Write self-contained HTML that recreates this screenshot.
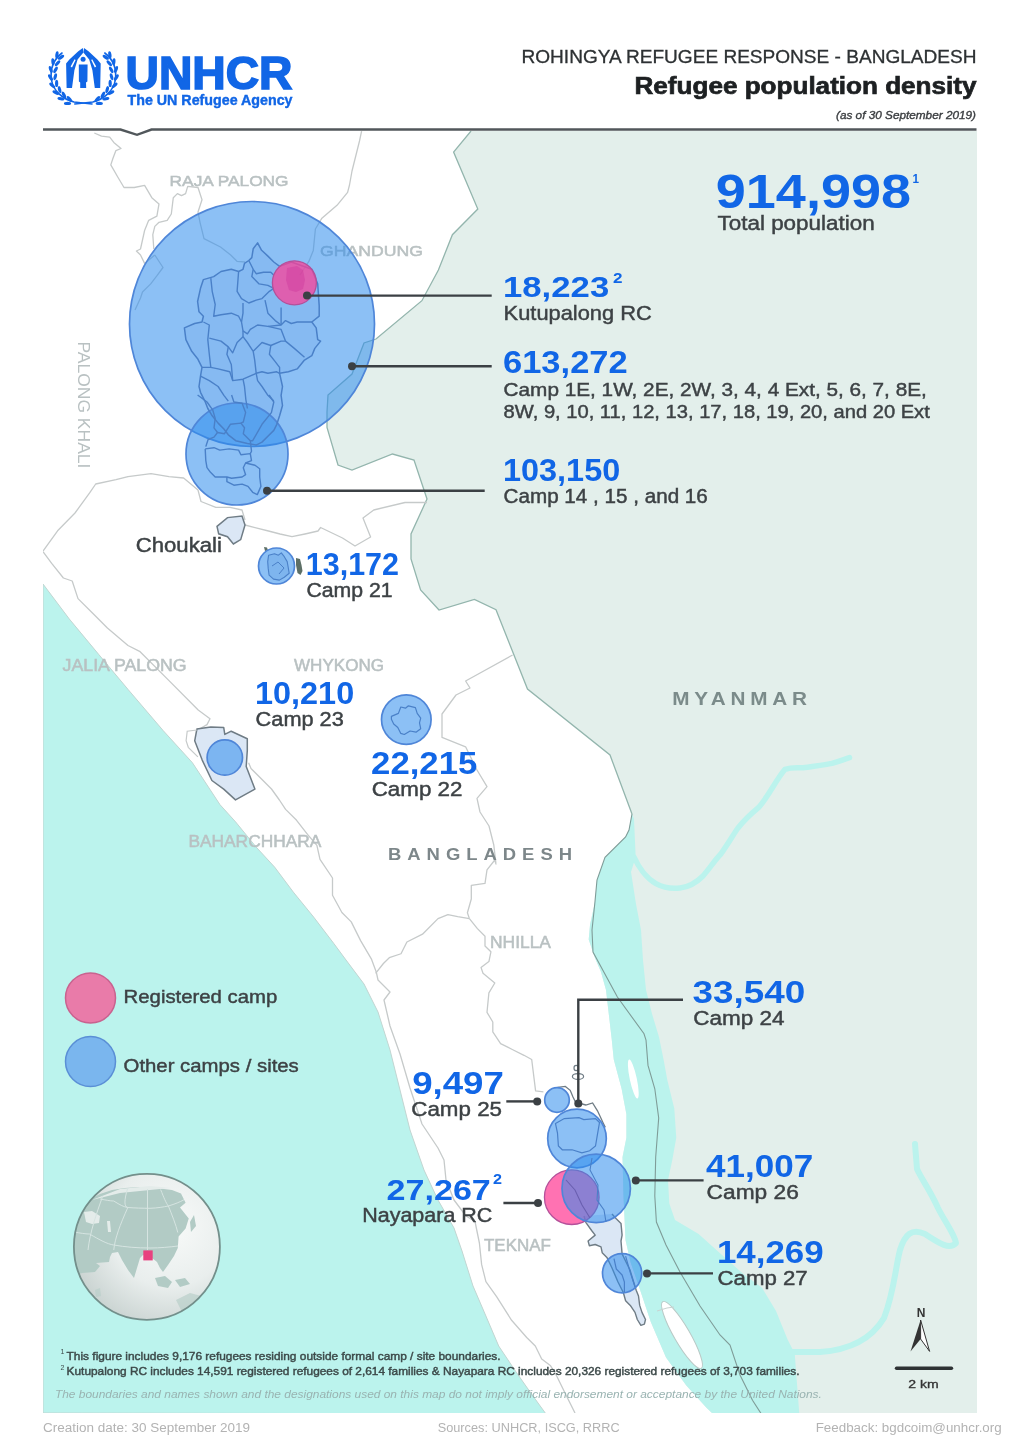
<!DOCTYPE html>
<html><head><meta charset="utf-8"><title>Refugee population density</title>
<style>
html,body{margin:0;padding:0;background:#fff;}
body{width:1024px;height:1449px;overflow:hidden;}
svg{display:block;font-family:"Liberation Sans",Arial,sans-serif;}
</style></head><body>
<svg width="1024" height="1449" viewBox="0 0 1024 1449">
<defs><clipPath id="mc"><rect x="43" y="131" width="934" height="1282"/></clipPath></defs>
<g clip-path="url(#mc)">
<rect x="43" y="131" width="934" height="1282" fill="#e3efeb"/>
<polygon points="471,131 453.6,152 477.8,209 452.4,234.7 438.4,270 421.9,300.7 376,339 364,343 352,374 328,395 327,412 327,427.5 338,465 352,470 392.5,454 414,460 427,499 411,534 411,559 420.6,590 439,610 474.4,599.4 496,609.7 527.5,689 610,755 632,814 632,814 629,830 625.6,837 605,857.4 597,880 594.9,902.5 590,925 588.7,939.5 595,958 601,972 606,990 611.8,1040 613.75,1059.5 621.6,1088.8 626.4,1114.2 626.4,1137.7 622.5,1157.2 623.5,1196 625.5,1240 630.5,1262 638,1283.8 650.8,1322 666,1357.4 686.3,1385.4 706.7,1408 712,1413 546,1414 531,1393.3 516,1371.9 498.7,1346 485.9,1316 473,1286 462,1251 454,1228 438,1200 424,1170 410,1130 400,1090 390,1050 378,1012 364,984 346,960 334,943.75 313.75,917.2 293.4,892.2 274.7,867.2 256,846.9 235.6,821.9 220,804.7 192.4,762.7 163,730.4 128,689.4 98.6,654.3 69.3,619 43,584 43,131" fill="#fff"/>
<polygon points="632,814 629,830 625.6,837 605,857.4 597,880 594.9,902.5 590,925 588.7,939.5 595,958 601,972 606,990 611.8,1040 613.75,1059.5 621.6,1088.8 626.4,1114.2 626.4,1137.7 622.5,1157.2 623.5,1196 625.5,1240 630.5,1262 638,1283.8 650.8,1322 666,1357.4 686.3,1385.4 706.7,1408 712,1413 712,1415 799.4,1415 794.7,1353.4 787.6,1339.4 776,1311 762,1287.8 743,1273.7 722,1255 698.6,1234 675,1220 669.3,1203.4 668,1180 672.3,1160 676.25,1137.7 674.3,1108.4 667.3,1080 663.75,1060.6 659,1037 652,1013.8 646,990 643,960 641,930 636,904 631,872 635.7,857 634,819 632,814" fill="#bbf3ed"/>
<polygon points="546,1414 531,1393.3 516,1371.9 498.7,1346 485.9,1316 473,1286 462,1251 454,1228 438,1200 424,1170 410,1130 400,1090 390,1050 378,1012 364,984 346,960 334,943.75 313.75,917.2 293.4,892.2 274.7,867.2 256,846.9 235.6,821.9 220,804.7 192.4,762.7 163,730.4 128,689.4 98.6,654.3 69.3,619 43,584 43,1413" fill="#bbf3ed" stroke="#c3d6d2" stroke-width="1"/>
<path d="M634,857 C638,866 646,878 656,883.6 C664,888 672,889 680,888 C690,887 697,882 703,876 C710,868 715,860 720.6,854.3 C728,844 733,835 738,828 C745,819 752,813 758.7,807.4 C768,797 776,780 785,769.3 C792,767 798,768 802.7,767.8 C815,766 825,765 832,763.4 C840,761 845,759 849.5,757.6" fill="none" stroke="#bbf3ed" stroke-width="5.5" stroke-linecap="round" stroke-linejoin="round"/>
<path d="M915,1144 L917,1169 C922,1180 930,1190 938,1208 C945,1222 955,1235 956,1243 C950,1250 940,1244 925,1234 C912,1228 905,1234 900,1250 C895,1270 894,1292 884,1318 C872,1338 850,1350 820,1352 L790,1352" fill="none" stroke="#bbf3ed" stroke-width="6" stroke-linecap="round" stroke-linejoin="round"/>
<ellipse cx="633.3" cy="1079" rx="3.5" ry="20" transform="rotate(-12 633.3 1079)" fill="#fff"/>
<ellipse cx="682" cy="1335" rx="8" ry="38.5" transform="rotate(-30 682 1335)" fill="#fff" stroke="#b9c9c6" stroke-width="1"/>
<polyline points="657,1311 667,1308 674,1307" fill="none" stroke="#c9d3d1" stroke-width="1"/>
<polyline points="471,131 453.6,152 477.8,209 452.4,234.7 438.4,270 421.9,300.7 376,339 364,343 352,374 328,395 327,412 327,427.5 338,465 352,470 392.5,454 414,460 427,499 411,534 411,559 420.6,590 439,610 474.4,599.4 496,609.7 527.5,689 610,755 632,814" fill="none" stroke="#93b5ad" stroke-width="1.3"/>
<polyline points="632,814 629,830 625.6,837 605,857.4 597,880 594.9,902.5 592,930 593,952 617.4,997 644,1033.8 646,1040 648,1065.4 654.8,1088.8 658.7,1118 655.7,1157 654.8,1196 656.4,1222 666,1245 680,1272 700,1306 720,1335 730,1345 740,1375 752.5,1400.3 762,1415" fill="none" stroke="#7f9c98" stroke-width="1.1"/>
<polyline points="361.6,131.2 359.5,141 356,155 352,171 349.5,185 347.6,192.4 337,205.3 321.9,218.2 315.4,229 313.3,250.4 309,261.2 300,275" fill="none" stroke="#c6caca" stroke-width="1.3" stroke-linejoin="round"/>
<polyline points="94.3,133 101.5,136.2 109.7,137.2 113.8,142.4 121,148.5 115.9,150.6 112.8,158.8 110.8,164.9 117.9,177.2 124,187.5 134.3,187.5 144.6,185.4 151.8,197.7 159,203.9 156.9,216.2 148.7,220.3 144.6,230.5 140.5,249 136.4,251 140.5,255 144.6,263.4 154.8,255" fill="none" stroke="#c6caca" stroke-width="1.3" stroke-linejoin="round"/>
<polyline points="154.8,255 163,267.5 157,275.7 150.7,283.9 142.5,292 140.5,298 135,310" fill="none" stroke="#c6caca" stroke-width="1.3" stroke-linejoin="round"/>
<polyline points="153.8,249 152.8,234.6 154.8,226.4 159,222.3 167.2,220.3 171.3,214 173.3,197.7 177.4,193.6 181.5,195.7 185.6,193.6 187.7,186.4 198,187.5 202,199.8 198,212 200,222.3 204,238.7 220.5,247 230.7,255 237,261.3 245,262" fill="none" stroke="#c6caca" stroke-width="1.3" stroke-linejoin="round"/>
<polyline points="43,551 57.6,530.8 75,513 89.8,492.7 95.7,484 116,479.6 128,476.6 151,473.7 169,476.6 183.6,478 198,490 201,501.5 215.8,507.4 230,507.4 242,510 245,520" fill="none" stroke="#c6caca" stroke-width="1.3" stroke-linejoin="round"/>
<polyline points="245,525 268.5,531 280,534 292,536.7 305,534 318,531 320.6,527.5 342.5,538 355,546 370.6,537 363,518 373.75,510 405,502.5 427,502.5" fill="none" stroke="#c6caca" stroke-width="1.3" stroke-linejoin="round"/>
<polyline points="43,551.7 51.7,563.4 63.4,578 72.2,581 78,598.6 92.7,613.2 107.4,628 128,645.5 139.6,651.3 169,680.6 198.2,710 210,718.7 207,724.6 196,731" fill="none" stroke="#c6caca" stroke-width="1.3" stroke-linejoin="round"/>
<polyline points="248.6,762.7 251,768.5 271.5,789 279.4,800 285.6,809.4 296.6,820.3 307.5,834.4 316.9,845.3 320,859.4 332.5,878 332.5,895.3 341.9,912.5 351.25,921.9 360.6,940.6 371.6,959.4 376.25,971.9 378,980 390,992 384,1000 390,1026 400,1054 410,1088 422,1124 438,1148 444,1160 446,1180 454,1200 466,1216 475,1221.5 479.4,1243 481.6,1264.4 485.9,1281.6 496.6,1296.7 511.6,1320.3 526.7,1337.5 535.3,1346 541.7,1359 550.3,1365.4 556.7,1376 566,1395 575,1413" fill="none" stroke="#c6caca" stroke-width="1.3" stroke-linejoin="round"/>
<polyline points="512.6,655 465.6,681 470,688 456,695 442,714 442,737.4 465.6,746.8 477,770 487,786.6 477,798.4 480,812 489,826 493.8,845 496,864 494.8,860 487,869.8 485,883.4 471.3,885.4 471.3,899 467.4,912.7 469.4,918.6" fill="none" stroke="#c6caca" stroke-width="1.3" stroke-linejoin="round"/>
<polyline points="469.4,918.6 457.7,916.6 447.9,914.7 438,918.6 422.5,934.2 406.9,942 401,953.75 389.3,957.7 383.4,963.5 375.6,973.3" fill="none" stroke="#c6caca" stroke-width="1.3" stroke-linejoin="round"/>
<polyline points="469.4,918.6 477.2,928.4 485,936.2 485,946 490.9,951.8 488.9,961.6 481,967.4 483,973.3 494.8,983 488.9,992.8 487,1012.3 492.8,1022 492.8,1031.9 500.6,1043.6 512.3,1049.5 524,1055.3 531.7,1059.5 535.6,1090.8 543.4,1091.8" fill="none" stroke="#c6caca" stroke-width="1.3" stroke-linejoin="round"/>
<text x="484" y="1251" font-size="16" fill="#b9c1c2" textLength="67" lengthAdjust="spacingAndGlyphs" stroke="#b9c1c2" stroke-width="0.5">TEKNAF</text>
<text x="490" y="947.8" font-size="16" fill="#b9c1c2" textLength="61" lengthAdjust="spacingAndGlyphs" stroke="#b9c1c2" stroke-width="0.5">NHILLA</text>
<text x="188.4" y="847" font-size="16" fill="#b9c1c2" textLength="133" lengthAdjust="spacingAndGlyphs" stroke="#b9c1c2" stroke-width="0.5">BAHARCHHARA</text>
<text x="294" y="671.4" font-size="16" fill="#b9c1c2" textLength="90" lengthAdjust="spacingAndGlyphs" stroke="#b9c1c2" stroke-width="0.5">WHYKONG</text>
<text x="62.6" y="671.4" font-size="16" fill="#b9c1c2" textLength="124" lengthAdjust="spacingAndGlyphs" stroke="#b9c1c2" stroke-width="0.5">JALIA PALONG</text>
<text x="320" y="255.8" font-size="15.5" fill="#b9c1c2" textLength="103" lengthAdjust="spacingAndGlyphs" stroke="#b9c1c2" stroke-width="0.5">GHANDUNG</text>
<text x="169.6" y="185.5" font-size="15.5" fill="#b9c1c2" textLength="119" lengthAdjust="spacingAndGlyphs" stroke="#b9c1c2" stroke-width="0.5">RAJA PALONG</text>
<polygon points="217,526.4 227.5,517.6 242,516 245,525 240.7,539.6 233.4,544 227.5,536.7 218.7,533.8" fill="#dbe7f5" stroke="#6f7c85" stroke-width="1.5"/>
<polygon points="196.9,729 210.8,726.9 223.7,727.4 224.8,734.4 231.2,731.2 247.3,738.7 247.3,750.5 246.2,766.6 254.9,789.1 235.5,799.9 223.7,789.1 211.9,780.5 202.2,760.1 194.7,740.8" fill="#dbe7f5" stroke="#6f7c85" stroke-width="1.5" stroke-linejoin="round"/>
<polyline points="196.9,730 187.2,731.2 186.1,740.8 188.3,747.3 197.9,756.9" fill="none" stroke="#c6caca" stroke-width="1.2" />
<polygon points="584,1216 585.8,1222.3 591.6,1230.5 595.2,1235.1 588.1,1241 589.3,1245.7 595.2,1244.5 601,1246.9 602.2,1252.7 606.9,1257.4 612,1268 618,1282 623.3,1292.5 625.6,1300.8 630.3,1305.4 635,1312.4 637.3,1319.5 640.9,1325.4 644.4,1324.2 645.5,1319.5 642,1312.4 639.7,1305.4 638.5,1296 636.2,1290.2 630,1270 622.1,1253.9 621,1241 622.1,1235.1 621,1223.4 616.25,1218.7 612,1214" fill="#dbe7f5"/>
<polyline points="584,1216 585.8,1222.3 591.6,1230.5 595.2,1235.1 588.1,1241 589.3,1245.7 595.2,1244.5 601,1246.9 602.2,1252.7 606.9,1257.4 612,1268 618,1282 623.3,1292.5 625.6,1300.8 630.3,1305.4 635,1312.4 637.3,1319.5 640.9,1325.4 644.4,1324.2 645.5,1319.5 642,1312.4 639.7,1305.4 638.5,1296 636.2,1290.2 630,1270 622.1,1253.9 621,1241 622.1,1235.1 621,1223.4 616.25,1218.7 612,1214" fill="none" stroke="#6f7c85" stroke-width="1.4" stroke-linejoin="round"/>
<polyline points="557.5,1087.3 565.3,1086.4 570.2,1090.3 573,1097 576,1103 578.5,1103 585.8,1105 592.6,1103 597.5,1110.8 603.4,1123.5 605.3,1127.4" fill="none" stroke="#6f7c85" stroke-width="1.3"/>
<ellipse cx="576.2" cy="1068" rx="2.2" ry="2.6" fill="#fff" stroke="#6f7c85" stroke-width="1.2"/><ellipse cx="578" cy="1076.5" rx="5.6" ry="2.9" fill="#fff" stroke="#6f7c85" stroke-width="1.2"/>
<path d="M296,558 l4,1 l1.5,6 l1,6 l-2,4 l-3,-2 l-1.5,-8 z M264,547 l3,0.5 l1,3 l-3,0.5 z" fill="#5d6f66"/>
<circle cx="252" cy="324" r="122.5" fill="rgba(45,140,237,0.55)" stroke="#4f86d8" stroke-width="1.7"/>
<circle cx="237" cy="454" r="51" fill="rgba(45,140,237,0.55)" stroke="#4f86d8" stroke-width="1.7"/>
<polygon points="257.6,242.9 261.6,250.3 267.9,256.1 273.8,262 279.6,266.4 291.3,262 311.8,269.3 317.7,283.9 319.2,305.9 319.2,316.2 311.8,322 316.2,327.9 317.7,339.6 320.6,341.1 314.8,348.4 311.8,355.7 304.5,360.1 297.2,368.9 288.4,371.8 279.6,373.3 282.5,386.5 281.1,395.3 282.5,405.5 279.6,415.8 276.7,424.6 273.8,430.4 267.9,436.3 262,442.1 256.2,445.1 247.4,443.6 235.7,440.7 228.3,434.8 223.9,429 218.1,423.1 212.2,415.8 207.8,408.5 204.9,401.1 200.5,392.3 199,386.5 200.5,376.2 202,367.4 197.6,358.7 191.7,351.3 185.9,339.6 184.4,327.9 194.6,323.5 202,322 203.4,316.2 199,311.8 197.6,301.5 200.5,288.3 203.4,279.6 213.7,276.6 221,271.5 231.3,269.3 238.6,271.5 243,269.3 244.5,263.4 248.8,260.5 251.8,257.6 253.2,248.8" fill="rgba(90,150,225,0.12)" stroke="#4a80c8" stroke-width="1.5" stroke-linejoin="round"/>
<polyline points="238.6,271.5 237.1,291.3 241.5,298.6 248.8,303 256.2,300.1 262,298.6 269.4,291.3 273.8,288.3" fill="none" stroke="#4a80c8" stroke-width="1.4" stroke-linejoin="round"/>
<polyline points="210.8,278.1 212.2,291.3 215.2,304.5 213.7,316.2 221,314.7 231.3,313.2 238.6,316.2 241.5,322 243,330.8 247.4,333.8 250.3,329.4 257.6,325 267.9,326.4 281.1,325 285.5,320.6 291.3,323.5 297.2,322 306,322 311.8,322" fill="none" stroke="#4a80c8" stroke-width="1.4" stroke-linejoin="round"/>
<polyline points="243,303 243,313.2 241.5,322" fill="none" stroke="#4a80c8" stroke-width="1.4" stroke-linejoin="round"/>
<polyline points="265,300.1 267.9,313.2 275.2,320.6 281.1,325" fill="none" stroke="#4a80c8" stroke-width="1.4" stroke-linejoin="round"/>
<polyline points="281.1,307.4 281.1,325" fill="none" stroke="#4a80c8" stroke-width="1.4" stroke-linejoin="round"/>
<polyline points="203.4,322 209.3,325 207.8,339.6 209.3,354.3 210.8,367.4 202,367.4" fill="none" stroke="#4a80c8" stroke-width="1.4" stroke-linejoin="round"/>
<polyline points="209.3,338.1 221,341.1 228.3,346.9 232.7,352.8 237.1,342.5 243,336.7 243,330.8" fill="none" stroke="#4a80c8" stroke-width="1.4" stroke-linejoin="round"/>
<polyline points="228.3,346.9 226.9,354.3 231.3,364.5 232.7,380.6 243,379.2 256.2,373.3 262,371.8 267.9,373.3 276.7,371.8 279.6,373.3" fill="none" stroke="#4a80c8" stroke-width="1.4" stroke-linejoin="round"/>
<polyline points="243,336.7 247.4,342.5 253.2,351.3 254.7,360.1 256.2,373.3" fill="none" stroke="#4a80c8" stroke-width="1.4" stroke-linejoin="round"/>
<polyline points="253.2,351.3 262,342.5 270.8,345.5 281.1,341.1 285.5,341.1 294.3,348.4 304.5,357.2" fill="none" stroke="#4a80c8" stroke-width="1.4" stroke-linejoin="round"/>
<polyline points="267.9,326.4 281.1,329.4 285.5,341.1" fill="none" stroke="#4a80c8" stroke-width="1.4" stroke-linejoin="round"/>
<polyline points="270.8,345.5 269.4,354.3 275.2,361.6 279.6,367.4 279.6,373.3" fill="none" stroke="#4a80c8" stroke-width="1.4" stroke-linejoin="round"/>
<polyline points="210.8,367.4 218.1,368.9 229.8,371.8 232.7,380.6" fill="none" stroke="#4a80c8" stroke-width="1.4" stroke-linejoin="round"/>
<polyline points="200.5,376.2 209.3,380.6 218.1,386.5 223.9,395.3 228.3,401.1" fill="none" stroke="#4a80c8" stroke-width="1.4" stroke-linejoin="round"/>
<polyline points="243,379.2 244.5,386.5 245.9,400 247.4,408.5" fill="none" stroke="#4a80c8" stroke-width="1.4" stroke-linejoin="round"/>
<polyline points="256.2,373.3 257.6,380.6 262,386.5 267.9,395.3 273.8,401.1" fill="none" stroke="#4a80c8" stroke-width="1.4" stroke-linejoin="round"/>
<polyline points="248.8,260.5 253.2,269.3 256.2,273.7 263.5,272.2 270.8,272.2 273.8,275.2" fill="none" stroke="#4a80c8" stroke-width="1.4" stroke-linejoin="round"/>
<polyline points="253.2,269.3 251.8,276.6 259.1,283.9 267.9,285.4 273.8,288.3" fill="none" stroke="#4a80c8" stroke-width="1.4" stroke-linejoin="round"/>
<polyline points="205.2,448.9 214,447.7 219.8,450.1 229.2,448.9 238.6,450.1 240.9,454.8 250.3,453.6 251.5,460.6 245.6,463 243.3,467.7 245.6,474.7 242.1,477 231.6,478.2 226.9,477 215.2,477 210.5,472.3 207,467.7 205.8,460.6 205.2,448.9" fill="none" stroke="#4a80c8" stroke-width="1.4" stroke-linejoin="round"/>
<polyline points="245.6,463 255,465.3 259.7,468.8 259.7,477 260.9,486.4 257.3,494.6 252.7,492.3 248,486.4 242.1,484.1 233.9,485.2 226.9,481.7 226.9,477" fill="none" stroke="#4a80c8" stroke-width="1.4" stroke-linejoin="round"/>
<polyline points="205.8,446.6 208.1,439.5 214,437.2 217.5,432.5 224.5,433.7 230.4,424.3 240.9,423.1 244.5,427.8 243.3,433.7 250.3,440.7 251.5,451.2 250.3,453.6" fill="none" stroke="#4a80c8" stroke-width="1.4" stroke-linejoin="round"/>
<polyline points="197.6,395 207,402 212.8,410.2 215.2,418.4 214,427.8 217.5,432.5" fill="none" stroke="#4a80c8" stroke-width="1.4" stroke-linejoin="round"/>
<polyline points="231.6,395 233.9,402 242.1,403.2 245.6,412.6 243.3,422 240.9,423.1" fill="none" stroke="#4a80c8" stroke-width="1.4" stroke-linejoin="round"/>
<polyline points="269.1,395 273.8,402 271.4,412.6 262,424.3 252.7,440.7 250.3,440.7" fill="none" stroke="#4a80c8" stroke-width="1.4" stroke-linejoin="round"/>
<circle cx="294.4" cy="282.8" r="22" fill="rgba(255,62,150,0.73)" stroke="#b4509a" stroke-width="1.3"/>
<polygon points="287,268 297,266 303,270 305,280 303,289 296,292 289,290 286,280" fill="rgba(200,40,150,0.3)"/>
<circle cx="276.5" cy="566" r="18" fill="rgba(45,140,237,0.55)" stroke="#4f86d8" stroke-width="1.7"/>
<polygon points="268.6,555.2 274.5,553.7 278.4,555.2 281.3,552.8 284.3,556.7 287.2,561.6 288.2,567.4 289.2,573.3 284.3,577.2 279.4,580.1 273.5,579.1 269.1,575.2 268.2,568.4 267.7,561.6" fill="rgba(70,140,210,0.2)" stroke="#4a80c8" stroke-width="1.1" stroke-linejoin="round"/>
<polyline points="272,566 278,562 284,568 279,574" fill="none" stroke="#4a80c8" stroke-width="1"/>
<circle cx="224.8" cy="757.5" r="17.7" fill="rgba(45,140,237,0.55)" stroke="#4f86d8" stroke-width="1.7"/>
<circle cx="406.3" cy="719.6" r="24.8" fill="rgba(45,140,237,0.55)" stroke="#4f86d8" stroke-width="1.7"/>
<polygon points="391.4,716.4 398.4,713.4 400.8,707 405.5,708.2 408.4,705.8 415.4,707.6 417.2,713.4 420.7,718.1 419.5,722.8 420.7,728.7 416,732.2 410.1,731 404.3,734.5 400.8,733.4 397.8,727.5 393.7,724 391.4,719.3" fill="none" stroke="#4a80c8" stroke-width="1.2" stroke-linejoin="round"/>
<circle cx="557" cy="1100" r="12.3" fill="rgba(45,140,237,0.55)" stroke="#4f86d8" stroke-width="1.7"/>
<circle cx="577" cy="1138.5" r="29.3" fill="rgba(45,140,237,0.55)" stroke="#4f86d8" stroke-width="1.7"/>
<polygon points="555.5,1123.5 564.3,1118.6 579,1117.6 583.8,1119.6 595.5,1118.6 599.5,1122.5 597.5,1134.2 595.5,1146 589.7,1150.8 581.9,1152.8 572.1,1149.8 562.3,1149.8 558.4,1146 557.5,1133.2" fill="none" stroke="#4a80c8" stroke-width="1.2"/>
<circle cx="571.75" cy="1197.2" r="27.3" fill="rgba(255,62,150,0.73)" stroke="#b4509a" stroke-width="1.3"/>
<circle cx="596.2" cy="1188.4" r="34.2" fill="rgba(45,140,237,0.55)" stroke="#4f86d8" stroke-width="1.7"/>
<polyline points="592,1158 590,1170 598,1185 597,1200 604,1210 606,1222" fill="none" stroke="#4a80c8" stroke-width="1.1"/>
<polyline points="566,1180 575,1190 582,1205 590,1218" fill="none" stroke="#6a5fb0" stroke-width="1.1"/>
<circle cx="622.1" cy="1273.2" r="19.6" fill="rgba(45,140,237,0.55)" stroke="#4f86d8" stroke-width="1.7"/>
<polyline points="614,1258.6 616.3,1269 622.1,1275 624.4,1282 624.4,1292.5" fill="none" stroke="#4a80c8" stroke-width="1.2" stroke-linejoin="round"/>
<polyline points="625.6,1256.2 630.3,1272.6 635,1286.7" fill="none" stroke="#4a80c8" stroke-width="1.2" stroke-linejoin="round"/>
<polyline points="307,295.6 491.7,295.6" fill="none" stroke="#3b4044" stroke-width="2.4"/>
<circle cx="307" cy="295.6" r="4" fill="#3b4044"/>
<polyline points="352,366.2 491.7,366.2" fill="none" stroke="#3b4044" stroke-width="2.4"/>
<circle cx="352" cy="366.2" r="4" fill="#3b4044"/>
<polyline points="267,490.7 484.7,490.7" fill="none" stroke="#3b4044" stroke-width="2.4"/>
<circle cx="267" cy="490.7" r="4" fill="#3b4044"/>
<polyline points="506.3,1101.4 537.2,1101.4" fill="none" stroke="#3b4044" stroke-width="2.4"/>
<circle cx="537.2" cy="1101.4" r="4" fill="#3b4044"/>
<polyline points="578.3,1103.5 578.3,999.8 683,999.8" fill="none" stroke="#3b4044" stroke-width="2.4"/>
<circle cx="578.3" cy="1103.5" r="4" fill="#3b4044"/>
<polyline points="635.8,1180.4 703.6,1180.4" fill="none" stroke="#3b4044" stroke-width="2.4"/>
<circle cx="635.8" cy="1180.4" r="4" fill="#3b4044"/>
<polyline points="503.4,1203 538,1203" fill="none" stroke="#3b4044" stroke-width="2.4"/>
<circle cx="538" cy="1203" r="4" fill="#3b4044"/>
<polyline points="647,1273.4 713,1273.4" fill="none" stroke="#3b4044" stroke-width="2.4"/>
<circle cx="647" cy="1273.4" r="4" fill="#3b4044"/>
<text x="715.8" y="208" font-size="49" fill="#1166e6" font-weight="bold" textLength="195.2" lengthAdjust="spacingAndGlyphs">914,998</text>
<text x="912.5" y="182.5" font-size="12" fill="#1166e6" font-weight="bold" textLength="6.5" lengthAdjust="spacingAndGlyphs">1</text>
<text x="717.5" y="230.3" font-size="20" fill="#3d4245" textLength="157.2" lengthAdjust="spacingAndGlyphs" stroke="#3d4245" stroke-width="0.45">Total population</text>
<text x="503" y="296.6" font-size="30" fill="#1166e6" font-weight="bold" textLength="106.2" lengthAdjust="spacingAndGlyphs">18,223</text>
<text x="613" y="282.6" font-size="14" fill="#1166e6" font-weight="bold" textLength="9.5" lengthAdjust="spacingAndGlyphs">2</text>
<text x="503.6" y="320" font-size="21" fill="#3d4245" textLength="148.2" lengthAdjust="spacingAndGlyphs" stroke="#3d4245" stroke-width="0.45">Kutupalong RC</text>
<text x="503" y="372.8" font-size="31" fill="#1166e6" font-weight="bold" textLength="124.7" lengthAdjust="spacingAndGlyphs">613,272</text>
<text x="503.6" y="395.5" font-size="19" fill="#3d4245" textLength="423.2" lengthAdjust="spacingAndGlyphs" stroke="#3d4245" stroke-width="0.45">Camp 1E, 1W, 2E, 2W, 3, 4, 4 Ext, 5, 6, 7, 8E,</text>
<text x="503.6" y="418" font-size="19" fill="#3d4245" textLength="426.2" lengthAdjust="spacingAndGlyphs" stroke="#3d4245" stroke-width="0.45">8W, 9, 10, 11, 12, 13, 17, 18, 19, 20, and 20 Ext</text>
<text x="503" y="481.3" font-size="31" fill="#1166e6" font-weight="bold" textLength="117.2" lengthAdjust="spacingAndGlyphs">103,150</text>
<text x="503.6" y="503.1" font-size="19.5" fill="#3d4245" textLength="204.2" lengthAdjust="spacingAndGlyphs" stroke="#3d4245" stroke-width="0.45">Camp 14 , 15 , and 16</text>
<text x="0" y="0" font-size="16" fill="#b9c1c2" textLength="127" lengthAdjust="spacingAndGlyphs" transform="translate(77.5 341.4) rotate(90)">PALONG KHALI</text>
<text x="135.7" y="552.3" font-size="20" fill="#3d4245" textLength="86.2" lengthAdjust="spacingAndGlyphs" stroke="#3d4245" stroke-width="0.45">Choukali</text>
<text x="305.8" y="574.5" font-size="31" fill="#1166e6" font-weight="bold" textLength="93.2" lengthAdjust="spacingAndGlyphs">13,172</text>
<text x="306.4" y="597" font-size="20" fill="#3d4245" textLength="86.2" lengthAdjust="spacingAndGlyphs" stroke="#3d4245" stroke-width="0.45">Camp 21</text>
<text x="255" y="703.8" font-size="31" fill="#1166e6" font-weight="bold" textLength="99.2" lengthAdjust="spacingAndGlyphs">10,210</text>
<text x="255.6" y="726" font-size="20" fill="#3d4245" textLength="88.2" lengthAdjust="spacingAndGlyphs" stroke="#3d4245" stroke-width="0.45">Camp 23</text>
<text x="371.1" y="774" font-size="31" fill="#1166e6" font-weight="bold" textLength="106.2" lengthAdjust="spacingAndGlyphs">22,215</text>
<text x="371.7" y="796.2" font-size="20" fill="#3d4245" textLength="90.7" lengthAdjust="spacingAndGlyphs" stroke="#3d4245" stroke-width="0.45">Camp 22</text>
<text x="672.2" y="705" font-size="17.5" fill="#7b8b8a" font-weight="bold" textLength="139.5" lengthAdjust="spacingAndGlyphs" letter-spacing="4">MYANMAR</text>
<text x="388" y="859.5" font-size="17" fill="#7d878a" font-weight="bold" textLength="190" lengthAdjust="spacingAndGlyphs" letter-spacing="5.5">BANGLADESH</text>
<text x="692.6" y="1002.8" font-size="31.5" fill="#1166e6" font-weight="bold" textLength="112.7" lengthAdjust="spacingAndGlyphs">33,540</text>
<text x="693.2" y="1025" font-size="20" fill="#3d4245" textLength="91.2" lengthAdjust="spacingAndGlyphs" stroke="#3d4245" stroke-width="0.45">Camp 24</text>
<text x="412.2" y="1094" font-size="31" fill="#1166e6" font-weight="bold" textLength="91.7" lengthAdjust="spacingAndGlyphs">9,497</text>
<text x="411.3" y="1116" font-size="20" fill="#3d4245" textLength="90.7" lengthAdjust="spacingAndGlyphs" stroke="#3d4245" stroke-width="0.45">Camp 25</text>
<text x="706" y="1176.6" font-size="31" fill="#1166e6" font-weight="bold" textLength="107.2" lengthAdjust="spacingAndGlyphs">41,007</text>
<text x="706.6" y="1198.75" font-size="20" fill="#3d4245" textLength="92.2" lengthAdjust="spacingAndGlyphs" stroke="#3d4245" stroke-width="0.45">Camp 26</text>
<text x="386.6" y="1200.3" font-size="30" fill="#1166e6" font-weight="bold" textLength="104.2" lengthAdjust="spacingAndGlyphs">27,267</text>
<text x="493" y="1184" font-size="14" fill="#1166e6" font-weight="bold" textLength="9" lengthAdjust="spacingAndGlyphs">2</text>
<text x="362.2" y="1221.6" font-size="20" fill="#3d4245" textLength="130.2" lengthAdjust="spacingAndGlyphs" stroke="#3d4245" stroke-width="0.45">Nayapara RC</text>
<text x="716.9" y="1262.5" font-size="31" fill="#1166e6" font-weight="bold" textLength="106.7" lengthAdjust="spacingAndGlyphs">14,269</text>
<text x="717.5" y="1285" font-size="20" fill="#3d4245" textLength="90.2" lengthAdjust="spacingAndGlyphs" stroke="#3d4245" stroke-width="0.45">Camp 27</text>
<defs><radialGradient id="gg" cx="0.66" cy="0.36" r="0.75"><stop offset="0" stop-color="#f8faf9"/><stop offset="0.55" stop-color="#e9eeed"/><stop offset="1" stop-color="#c6d0ce"/></radialGradient>
<clipPath id="gc"><circle cx="146.9" cy="1246.8" r="73"/></clipPath></defs>
<circle cx="146.9" cy="1246.8" r="73.2" fill="url(#gg)"/>
<g clip-path="url(#gc)" fill="#b2cbc5">
<polygon points="72,1238 73,1225 76,1213 82,1204 90,1199 100,1194 112,1190 125,1188 140,1187 160,1188.5 172,1190 181,1193.4 185.6,1202.8 180,1207.5 188.75,1218.4 185.6,1228.6 178.6,1236.4 177.8,1248 174,1256 168,1265 163,1272 160,1268 157,1262 152,1258 148,1256 143,1255 140,1258 137,1268 134,1278 128,1270 122,1260 118,1252 112,1253 110,1257 109,1262 96,1263 100,1266 95,1272 82,1273 76,1275 73,1262"/>
<polygon points="155,1278 165,1276 172,1282 168,1288 158,1286"/>
<polygon points="175,1280 185,1278 190,1284 180,1287"/>
<polygon points="190,1222 194,1215 196,1226 191,1232"/>
<polygon points="176,1300 190,1293 205,1297 208,1305 198,1312 182,1312" opacity="0.6"/>
<polygon points="95,1290 100,1288 101,1296 96,1297" opacity="0.5"/>
</g>
<g clip-path="url(#gc)" fill="#e4ecea">
<polygon points="84,1212 92,1211 100,1216 99,1223 92,1224 86,1222"/>
<polygon points="107,1221 110,1221 111,1232 108,1232"/>
<polygon points="92,1200 120,1189 150,1186 170,1188 150,1190 120,1193 100,1198"/>
</g>
<g fill="none" stroke="#d6e4e1" stroke-width="1" clip-path="url(#gc)">
<path d="M147.5,1189 L147.5,1250 M127.8,1188 C124,1200 124,1207 127.8,1207.5 C120,1225 115,1238 113.75,1250 M102.8,1195.8 C96,1215 90,1232 88,1250 M160.6,1189.5 C164,1198 166,1203 168.4,1206 C172,1215 176,1225 177.8,1232.5"/>
<path d="M74,1232 C80,1233 85,1234 89.5,1234 C100,1240 107,1244 113.75,1245 C125,1247 137,1248 150,1248 C160,1248 170,1247 178,1246 M100,1199 C106,1200 110,1201 113.75,1201 C120,1205 124,1207 127.8,1207.5 C135,1208 142,1208.3 150,1208.3 C158,1208 163,1207 168.4,1206 C175,1204 180,1202 184,1199.7"/>
</g>
<circle cx="146.9" cy="1246.8" r="73" fill="none" stroke="#738f8b" stroke-width="1.8"/>
<rect x="143.3" y="1250.4" width="9.4" height="10" fill="#e8417f"/>
<circle cx="90.5" cy="998" r="25" fill="#e97ba9" stroke="#c9628f" stroke-width="1.5"/>
<circle cx="90.5" cy="1061.6" r="25" fill="#7ab6ee" stroke="#5a8fd6" stroke-width="1.5"/>
<text x="123.6" y="1003.2" font-size="19" fill="#3d4245" textLength="153.7" lengthAdjust="spacingAndGlyphs" stroke="#3d4245" stroke-width="0.45">Registered camp</text>
<text x="123.6" y="1071.7" font-size="19" fill="#3d4245" textLength="175.2" lengthAdjust="spacingAndGlyphs" stroke="#3d4245" stroke-width="0.45">Other camps / sites</text>
<text x="921" y="1316.5" font-size="12" font-weight="bold" fill="#333" text-anchor="middle">N</text>
<path d="M920.6,1320 L910.5,1351.4 L920.6,1339 Z" fill="#333"/><path d="M920.6,1320 L929.6,1351.4 L920.6,1339 Z" fill="#fff" stroke="#333" stroke-width="1"/>
<line x1="896.5" y1="1368.2" x2="951.5" y2="1368.2" stroke="#2e3234" stroke-width="3.4" stroke-linecap="round"/>
<text x="908.2" y="1388.4" font-size="11" fill="#333" textLength="30.4" lengthAdjust="spacingAndGlyphs" stroke="#333" stroke-width="0.3">2 km</text>
<text x="60.5" y="1354" font-size="7" fill="#3d4a4a">1</text>
<text x="66.6" y="1359.5" font-size="11.5" fill="#3d4a4a" textLength="434" lengthAdjust="spacingAndGlyphs" stroke="#3d4a4a" stroke-width="0.45">This figure includes 9,176 refugees residing outside formal camp / site boundaries.</text>
<text x="60.5" y="1370" font-size="7" fill="#3d4a4a">2</text>
<text x="66.6" y="1375" font-size="11.5" fill="#3d4a4a" textLength="733" lengthAdjust="spacingAndGlyphs" stroke="#3d4a4a" stroke-width="0.45">Kutupalong RC includes 14,591 registered refugees of 2,614 families &amp; Nayapara RC includes 20,326 registered refugees of 3,703 families.</text>
<text x="54.9" y="1397.6" font-size="11.5" fill="#99b3b1" font-style="italic" textLength="767" lengthAdjust="spacingAndGlyphs">The boundaries and names shown and the designations used on this map do not imply official endorsement or acceptance by the United Nations.</text>
</g>

<g fill="#1166e6">
<path d="M82.8,48.1 L83.4,52.4 L77.6,59.6 L74.4,70.3 L72,88.1 L66.6,88.1 L66.1,63.5 L69.4,59.5 L78.3,51.3 Z"/>
<path d="M84,48.1 L83.4,52.4 L89.2,59.6 L92.4,70.3 L94.8,88.1 L100.2,88.1 L100.7,63.5 L97.4,59.5 L88.5,51.3 Z"/>
<circle cx="83.1" cy="59.2" r="2.5"/>
<path d="M78.8,64.6 L87.6,64.6 L87.4,81.5 L86,82.4 L86.2,88.1 L80.2,88.1 L80.2,82.4 L78.9,81.5 Z"/>
</g>
<g fill="#fff"><path d="M70.6,66.5 L74.6,59.2 L75.6,60 L72,67.5 Z"/><path d="M96.2,66.5 L92.2,59.2 L91.2,60 L94.8,67.5 Z"/></g>
<g fill="none" stroke="#1166e6" stroke-width="1.6" stroke-linecap="round">
<path d="M62,53 C53,60 50,70 51.5,80 C53,90 62,99 74,102 L92,104"/>
<path d="M104.8,53 C113.8,60 116.8,70 115.3,80 C113.8,90 104.8,99 92.8,102 L74.8,104"/>
</g>
<g fill="#1166e6">
<ellipse cx="67.51" cy="103.46" rx="3.6" ry="1.6" transform="rotate(-180.0 67.51 103.46)"/>
<ellipse cx="69.48" cy="99.04" rx="3.6" ry="1.6" transform="rotate(-132.0 69.48 99.04)"/>
<ellipse cx="60.97" cy="98.75" rx="3.6" ry="1.6" transform="rotate(-166.0 60.97 98.75)"/>
<ellipse cx="63.95" cy="94.94" rx="3.6" ry="1.6" transform="rotate(-118.0 63.95 94.94)"/>
<ellipse cx="55.77" cy="92.61" rx="3.6" ry="1.6" transform="rotate(-152.0 55.77 92.61)"/>
<ellipse cx="59.59" cy="89.63" rx="3.6" ry="1.6" transform="rotate(-104.0 59.59 89.63)"/>
<ellipse cx="52.21" cy="85.39" rx="3.6" ry="1.6" transform="rotate(-138.0 52.21 85.39)"/>
<ellipse cx="56.63" cy="83.42" rx="3.6" ry="1.6" transform="rotate(-90.0 56.63 83.42)"/>
<ellipse cx="50.50" cy="77.52" rx="3.6" ry="1.6" transform="rotate(-124.0 50.50 77.52)"/>
<ellipse cx="55.27" cy="76.68" rx="3.6" ry="1.6" transform="rotate(-76.0 55.27 76.68)"/>
<ellipse cx="50.75" cy="69.47" rx="3.6" ry="1.6" transform="rotate(-110.0 50.75 69.47)"/>
<ellipse cx="55.58" cy="69.81" rx="3.6" ry="1.6" transform="rotate(-62.0 55.58 69.81)"/>
<ellipse cx="52.94" cy="61.72" rx="3.6" ry="1.6" transform="rotate(-96.0 52.94 61.72)"/>
<ellipse cx="57.54" cy="63.22" rx="3.6" ry="1.6" transform="rotate(-48.0 57.54 63.22)"/>
<ellipse cx="56.93" cy="54.73" rx="3.6" ry="1.6" transform="rotate(-82.0 56.93 54.73)"/>
<ellipse cx="61.04" cy="57.30" rx="3.6" ry="1.6" transform="rotate(-34.0 61.04 57.30)"/>
<ellipse cx="99.29" cy="103.46" rx="3.6" ry="1.6" transform="rotate(360.0 99.29 103.46)"/>
<ellipse cx="97.32" cy="99.04" rx="3.6" ry="1.6" transform="rotate(312.0 97.32 99.04)"/>
<ellipse cx="105.83" cy="98.75" rx="3.6" ry="1.6" transform="rotate(346.0 105.83 98.75)"/>
<ellipse cx="102.85" cy="94.94" rx="3.6" ry="1.6" transform="rotate(298.0 102.85 94.94)"/>
<ellipse cx="111.03" cy="92.61" rx="3.6" ry="1.6" transform="rotate(332.0 111.03 92.61)"/>
<ellipse cx="107.21" cy="89.63" rx="3.6" ry="1.6" transform="rotate(284.0 107.21 89.63)"/>
<ellipse cx="114.59" cy="85.39" rx="3.6" ry="1.6" transform="rotate(318.0 114.59 85.39)"/>
<ellipse cx="110.17" cy="83.42" rx="3.6" ry="1.6" transform="rotate(270.0 110.17 83.42)"/>
<ellipse cx="116.30" cy="77.52" rx="3.6" ry="1.6" transform="rotate(304.0 116.30 77.52)"/>
<ellipse cx="111.53" cy="76.68" rx="3.6" ry="1.6" transform="rotate(256.0 111.53 76.68)"/>
<ellipse cx="116.05" cy="69.47" rx="3.6" ry="1.6" transform="rotate(290.0 116.05 69.47)"/>
<ellipse cx="111.22" cy="69.81" rx="3.6" ry="1.6" transform="rotate(242.0 111.22 69.81)"/>
<ellipse cx="113.86" cy="61.72" rx="3.6" ry="1.6" transform="rotate(276.0 113.86 61.72)"/>
<ellipse cx="109.26" cy="63.22" rx="3.6" ry="1.6" transform="rotate(228.0 109.26 63.22)"/>
<ellipse cx="109.87" cy="54.73" rx="3.6" ry="1.6" transform="rotate(262.0 109.87 54.73)"/>
<ellipse cx="105.76" cy="57.30" rx="3.6" ry="1.6" transform="rotate(214.0 105.76 57.30)"/>
</g>

<text x="125.5" y="89" font-size="45.5" fill="#1166e6" font-weight="bold" textLength="167" lengthAdjust="spacingAndGlyphs" stroke="#1166e6" stroke-width="1.6">UNHCR</text>
<text x="127.5" y="104.7" font-size="14" fill="#1166e6" font-weight="bold" textLength="165" lengthAdjust="spacingAndGlyphs" stroke="#1166e6" stroke-width="0.4">The UN Refugee Agency</text>
<text x="976.5" y="63.4" font-size="18.5" fill="#2d3133" text-anchor="end" textLength="455" lengthAdjust="spacingAndGlyphs" stroke="#2d3133" stroke-width="0.3">ROHINGYA REFUGEE RESPONSE - BANGLADESH</text>
<text x="976.5" y="94" font-size="23.5" fill="#1d2022" font-weight="bold" text-anchor="end" textLength="342" lengthAdjust="spacingAndGlyphs" stroke="#1d2022" stroke-width="0.7">Refugee population density</text>
<text x="976" y="118.6" font-size="10.8" fill="#3a3d40" font-style="italic" text-anchor="end" textLength="140" lengthAdjust="spacingAndGlyphs" stroke="#3a3d40" stroke-width="0.35">(as of 30 September 2019)</text>
<polyline points="43,129.5 120.5,129.5 137,134.8 151.5,129.5 976.5,129.5" fill="none" stroke="#51575b" stroke-width="2.4"/>
<text x="43" y="1432" font-size="12.5" fill="#b3b3b3" textLength="207" lengthAdjust="spacingAndGlyphs">Creation date: 30 September 2019</text>
<text x="437.7" y="1432" font-size="12.5" fill="#b3b3b3" textLength="182" lengthAdjust="spacingAndGlyphs">Sources: UNHCR, ISCG, RRRC</text>
<text x="815.7" y="1432" font-size="12.5" fill="#b3b3b3" textLength="186" lengthAdjust="spacingAndGlyphs">Feedback: bgdcoim@unhcr.org</text>
</svg>
</body></html>
